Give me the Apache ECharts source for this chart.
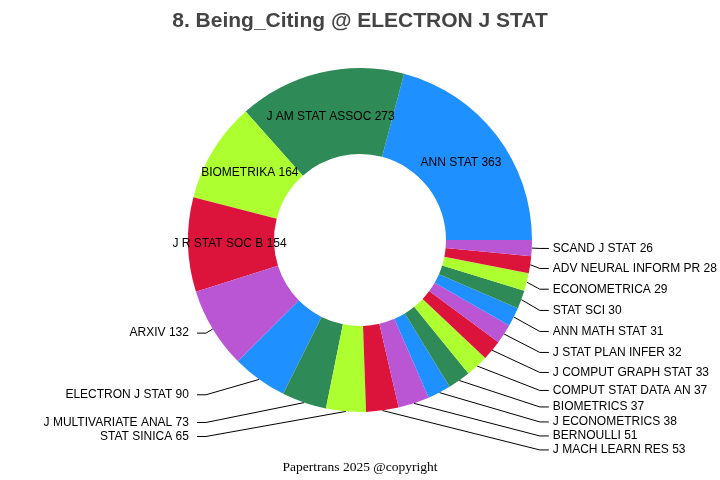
<!DOCTYPE html>
<html>
<head>
<meta charset="utf-8">
<script src="https://cdn.jsdelivr.net/npm/echarts@6/dist/echarts.min.js"></script>
<style>html,body{margin:0;padding:0;background:#fff;}#c{width:720px;height:480px;}</style>
</head>
<body>
<div id="c"></div>
<script>
const titleText = '8. Being_Citing @ ELECTRON J STAT';
const footerText = 'Papertrans 2025 @copyright';
const categories = ['ANN STAT','J AM STAT ASSOC','BIOMETRIKA','J R STAT SOC B','ARXIV','ELECTRON J STAT','J MULTIVARIATE ANAL','STAT SINICA','J MACH LEARN RES','BERNOULLI','J ECONOMETRICS','BIOMETRICS','COMPUT STAT DATA AN','J COMPUT GRAPH STAT','J STAT PLAN INFER','ANN MATH STAT','STAT SCI','ECONOMETRICA','ADV NEURAL INFORM PR','SCAND J STAT'];
const values = [363,273,164,154,132,90,73,65,53,51,38,37,37,33,32,31,30,29,28,26];
const insideLabelCount = 4;
const palette = ['#1E90FF','#2E8B57','#ADFF2F','#DC143C','#BA55D3'];

// label spacing styles (line height of outside labels / label line length), by category
const labelLineHeight = {
  'SCAND J STAT': 18, 'ADV NEURAL INFORM PR': 18, 'ECONOMETRICA': 19.5, 'STAT SCI': 19,
  'ANN MATH STAT': 19, 'J STAT PLAN INFER': 19, 'J COMPUT GRAPH STAT': 17, 'COMPUT STAT DATA AN': 15,
  'BIOMETRICS': 14, 'J ECONOMETRICS': 11, 'BERNOULLI': 10, 'J MACH LEARN RES': 10,
  'ELECTRON J STAT': 11, 'J MULTIVARIATE ANAL': 11, 'STAT SINICA': 11
};
const labelLineLength = { 'ELECTRON J STAT': 19, 'J MULTIVARIATE ANAL': 21, 'STAT SINICA': 22 };
// inward nudge of the inside labels, by category
const insidePull = { 'ANN STAT': 4.6, 'J AM STAT ASSOC': 5, 'BIOMETRIKA': 3, 'J R STAT SOC B': 1.5 };
const LINE_LEN = 8, LINE_LEN2 = 9;
const CENTER = [360, 240];

const data = categories.map((name, i) => {
  const item = { name: name, value: values[i] };
  if (i < insideLabelCount) {
    item.label = { position: 'inside', padding: 0 };
    item.labelLine = { show: false };
  } else {
    if (labelLineHeight[name] != null) item.label = { lineHeight: labelLineHeight[name] };
    if (labelLineLength[name] != null) item.labelLine = { length: labelLineLength[name] };
  }
  return item;
});

const chart = echarts.init(document.getElementById('c'), null, { renderer: 'canvas' });
chart.setOption({
  animation: false,
  color: palette,
  title: [
    { text: titleText, left: 'center', top: 6,
      textStyle: { fontSize: 21, fontWeight: 'bold', color: '#444', fontFamily: 'Liberation Sans, Arial, sans-serif' } },
    { text: footerText, left: 'center', top: 455,
      textStyle: { fontSize: 13.5, fontWeight: 'normal', color: '#000', fontFamily: 'Liberation Serif, Times New Roman, serif' } }
  ],
  series: [{
    type: 'pie',
    center: CENTER,
    radius: [86, 172],
    clockwise: false,
    startAngle: 0,
    avoidLabelOverlap: true,
    label: {
      show: true,
      formatter: '{b} {c}',
      color: '#000',
      fontSize: 12,
      fontFamily: 'Liberation Sans, Arial, sans-serif',
      alignTo: 'labelLine',
      overflow: 'none',
      bleedMargin: 0,
      distanceToLabelLine: 4,
      padding: [0, 4, 0, 0]
    },
    labelLine: { show: true, length: LINE_LEN, length2: LINE_LEN2, lineStyle: { color: '#000', width: 1 } },
    labelLayout: function (params) {
      const pts = params.labelLinePoints;
      if (!pts || pts.length < 3) {
        const pull = insidePull[categories[params.dataIndex]] || 0;
        const r = params.labelRect;
        const lx = r.x + r.width / 2 - CENTER[0];
        const ly = r.y + r.height / 2 - CENTER[1];
        const d = Math.sqrt(lx * lx + ly * ly) || 1;
        return { dx: -pull * lx / d, dy: -pull * ly / d };
      }
      const dir = pts[2][0] >= pts[0][0] ? 1 : -1;
      return {
        labelLinePoints: [pts[0], [pts[2][0] - dir * LINE_LEN2, pts[2][1]], pts[2]]
      };
    },
    itemStyle: { borderWidth: 0 },
    emphasis: { disabled: true },
    data: data
  }]
});
</script>
</body>
</html>
